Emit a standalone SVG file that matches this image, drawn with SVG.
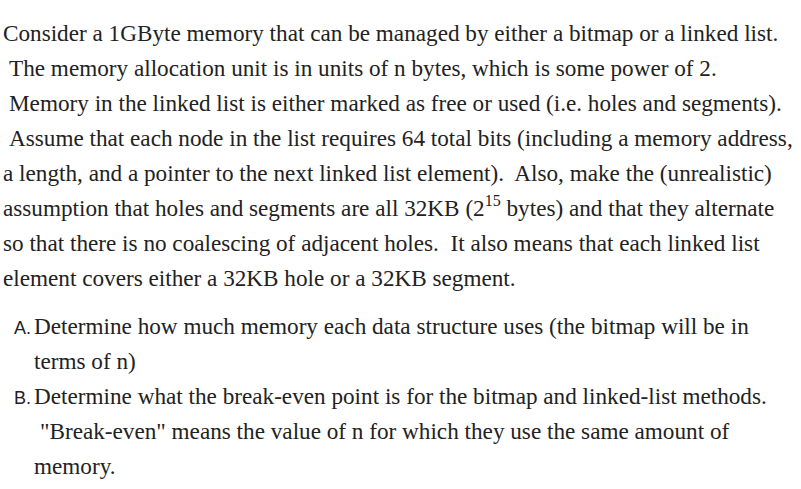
<svg xmlns="http://www.w3.org/2000/svg" width="801" height="489" viewBox="0 0 801 489">
<style>
.t{font-family:"Liberation Serif",serif;font-size:23.2px;fill:#222}
.s{font-family:"Liberation Sans",sans-serif;font-size:18px;fill:#222}
</style>
<rect width="801" height="489" fill="#fff"/>
<text class="t" x="3" y="41">Consider a 1GByte memory that can be managed by either a bitmap or a linked list.</text>
<text class="t" x="9" y="76">The memory allocation unit is in units of n bytes, which is some power of 2.</text>
<text class="t" x="9" y="111">Memory in the linked list is either marked as free or used (i.e. holes and segments).</text>
<text class="t" x="9" y="146">Assume that each node in the list requires 64 total bits (including a memory address,</text>
<text class="t" x="3" y="181" xml:space="preserve">a length, and a pointer to the next linked list element).  Also, make the (unrealistic)</text>
<text class="t" x="3" y="216" xml:space="preserve">assumption that holes and segments are all 32KB (2<tspan font-size="16" dy="-10">15</tspan><tspan dy="10"> bytes) and that they alternate</tspan></text>
<text class="t" x="3" y="251" xml:space="preserve">so that there is no coalescing of adjacent holes.  It also means that each linked list</text>
<text class="t" x="3" y="286">element covers either a 32KB hole or a 32KB segment.</text>
<text class="s" x="14" y="334">A.</text>
<text class="t" x="34" y="334">Determine how much memory each data structure uses (the bitmap will be in</text>
<text class="t" x="34" y="369">terms of n)</text>
<text class="s" x="14" y="404">B.</text>
<text class="t" x="34" y="404">Determine what the break-even point is for the bitmap and linked-list methods.</text>
<text class="t" x="40" y="439">"Break-even" means the value of n for which they use the same amount of</text>
<text class="t" x="34" y="474">memory.</text>
</svg>
